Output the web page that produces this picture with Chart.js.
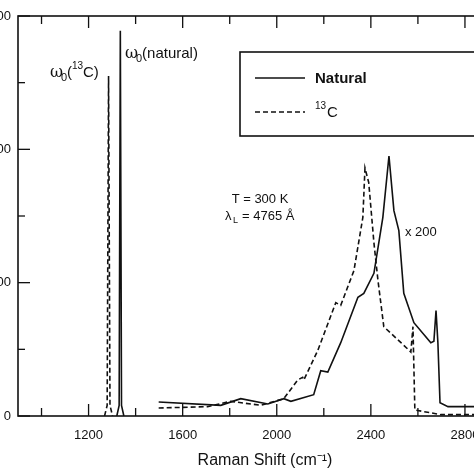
<!DOCTYPE html><html><head><meta charset="utf-8">
<script src="https://cdn.jsdelivr.net/npm/chart.js@4/dist/chart.umd.min.js"></script>
<style>html,body{margin:0;padding:0;background:#fff;overflow:hidden;width:474px;height:474px}
#w{position:absolute;left:-30px;top:0;width:600px;height:474px}</style></head><body>
<div id="w"><canvas id="c" width="600" height="474"></canvas></div>
<script>
const naturalX=[1320,1330,1335,1340,1350,1420,1498,1762,1847,1962,2030,2060,2157,2187,2217,2272,2345,2370,2413,2451,2477,2498,2519,2540,2583,2655,2668,2677,2685,2694,2728,2950];
const naturalY=[0,8,289,8,0,null,10.5,8,13,9,13,11,16,34,33,55,89,92,107,149,195,154,139,92,70,55,56,79,55,10,7,7];
const c13X=[1268,1279,1285,1291,1302,1400,1498,1706,1804,1932,2030,2089,2110,2115,2174,2251,2272,2328,2366,2375,2391,2413,2430,2455,2528,2570,2579,2587,2698,2950];
const c13Y=[0,8,255,8,0,null,6,7,11,8,13,27,29,27,49,85,83,109,149,186,175,130,102,67,55,48,67,4.5,1,1];
const xTicks=[1200,1600,2000,2400,2800];
const yTicks=[0,100,200,300];
const F='"Liberation Sans", Arial, sans-serif';
const pts=(xs,ys)=>xs.map((x,i)=>({x,y:ys[i]}));
const deco={id:'deco',afterDraw(ch){const g=ch.ctx,a=ch.chartArea,xs=ch.scales.x,ys=ch.scales.y;
g.save();g.strokeStyle='#111';g.lineWidth=1.6;g.strokeRect(a.left,a.top,a.right-a.left,a.bottom-a.top);
g.lineWidth=1.3;
for(let v=1000;v<=3000;v+=200){const p=xs.getPixelForValue(v),L=(v%400==0)?12:8;g.beginPath();g.moveTo(p,a.bottom);g.lineTo(p,a.bottom-L);g.moveTo(p,a.top);g.lineTo(p,a.top+L);g.stroke();}
for(let v=0;v<=300;v+=50){const p=ys.getPixelForValue(v),L=(v%100==0)?12:7;g.beginPath();g.moveTo(a.left,p);g.lineTo(a.left+L,p);g.stroke();}
g.fillStyle='#111';g.textBaseline='alphabetic';
const om=(x,y,rest)=>{g.font='16px "DejaVu Serif", serif';g.fillText('ω',x,y);let w=g.measureText('ω').width;g.font='11px '+F;g.fillText('0',x+w-2,y+4);g.font='15px '+F;g.fillText(rest,x+w+4,y);return x+w+4+g.measureText(rest).width;};
let e=om(80,77,'(');g.font='10px '+F;g.fillText('13',e,69);g.font='15px '+F;g.fillText('C)',e+11,77);
om(155,58,'(natural)');
g.lineWidth=1.6;g.strokeRect(270,52,260,84);
g.lineWidth=1.5;g.beginPath();g.moveTo(285,78);g.lineTo(335,78);g.stroke();
g.setLineDash([5,3]);g.beginPath();g.moveTo(285,112);g.lineTo(335,112);g.stroke();g.setLineDash([]);
g.font='bold 15px '+F;g.fillText('Natural',345,83);
g.font='10px '+F;g.fillText('13',345,109);g.font='15px '+F;g.fillText('C',357,117);
g.font='13px '+F;g.textAlign='center';g.fillText('T = 300 K',290,203);
g.textAlign='left';g.fillText('λ',255,220);g.font='9px '+F;g.fillText('L',263,223);g.font='13px '+F;g.fillText('= 4765 Å',272,220);
g.fillText('x 200',435,236);
g.restore();}};
new Chart(document.getElementById('c'),{type:'line',
data:{datasets:[
{data:pts(naturalX,naturalY),borderColor:'#111',borderWidth:1.6,pointRadius:0,tension:0,spanGaps:false},
{data:pts(c13X,c13Y),borderColor:'#111',borderWidth:1.6,borderDash:[5,3],pointRadius:0,tension:0,spanGaps:false}]},
options:{responsive:false,animation:false,devicePixelRatio:1,
layout:{padding:{top:16,right:58,left:0,bottom:0}},
plugins:{legend:{display:false},tooltip:{enabled:false}},
scales:{
x:{type:'linear',min:900,max:3000,afterFit:s=>{s.height=58},afterBuildTicks:s=>{s.ticks=xTicks.map(v=>({value:v}))},
grid:{display:false,drawTicks:false,tickLength:0},border:{display:false},
ticks:{color:'#111',font:{family:F,size:13},padding:12,maxRotation:0,callback:v=>String(v)},
title:{display:true,text:'Raman Shift (cm⁻¹)',color:'#111',font:{family:F,size:16},padding:{top:0}}},
y:{min:0,max:300,afterFit:s=>{s.width=48},afterBuildTicks:s=>{s.ticks=yTicks.map(v=>({value:v}))},
grid:{display:false,drawTicks:false,tickLength:0},border:{display:false},
ticks:{color:'#111',font:{family:F,size:13},padding:7,callback:v=>String(v)}}}},
plugins:[deco]});
</script></body></html>
